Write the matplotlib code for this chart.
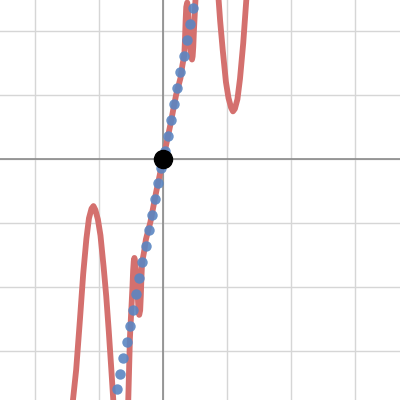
import numpy as np
import matplotlib.pyplot as plt

# red curve, right half (odd symmetric)
curve_x = [0.0, 0.11, 0.20, 0.27, 0.30, 0.33, 0.34, 0.35, 0.36, 0.375, 0.385, 0.40, 0.42, 0.44, 0.45, 0.46, 0.47,
           0.48, 0.50, 0.52, 0.56,
           0.74, 0.78, 0.81, 0.85, 0.89, 0.93, 0.98, 1.02, 1.06, 1.09, 1.12, 1.16, 1.20, 1.25, 1.30, 1.36, 1.41, 1.46]
curve_y = [0.0, 0.52, 0.99, 1.26, 1.46, 1.62, 1.85, 2.15, 2.37, 2.44, 2.38, 2.1, 1.78, 1.60, 1.55, 1.60, 1.75,
           2.00, 2.40, 2.8, 4.3,
           4.3, 3.77, 3.3, 2.7, 2.15, 1.7, 1.2, 0.95, 0.80, 0.74, 0.78, 0.93, 1.25, 1.8, 2.5, 3.3, 3.77, 4.3]

# blue dots
dot_y = [2.35, 2.10, 1.85, 1.60, 1.35, 1.10, 0.85, 0.61, 0.36, 0.12, -0.14, -0.38, -0.63, -0.88,
         -1.12, -1.37, -1.62, -1.86, -2.11, -2.36, -2.61, -2.86, -3.11, -3.36, -3.60]
dot_x = [0.470, 0.420, 0.370, 0.320, 0.270, 0.220, 0.170, 0.122, 0.072, 0.024, -0.028, -0.076, -0.126,
         -0.176, -0.224, -0.274, -0.324, -0.372, -0.422, -0.472, -0.522, -0.572, -0.622, -0.672, -0.720]

cx = np.array(curve_x)
cy = np.array(curve_y)
full_x = np.concatenate([-cx[::-1], cx[1:]])
full_y = np.concatenate([-cy[::-1], cy[1:]])

fig = plt.figure(figsize=(4, 4), dpi=100)
ax = fig.add_axes([0, 0, 1, 1])
ax.set_xlim(-2.55, 3.70)
ax.set_ylim(-3.77, 2.48)
for g in range(-2, 4):
    ax.axvline(g, color='#d6d6d6', lw=1, zorder=0)
for g in range(-3, 3):
    ax.axhline(g, color='#d6d6d6', lw=1, zorder=0)
ax.axvline(0, color='#8a8a8a', lw=1.2, zorder=1)
ax.axhline(0, color='#8a8a8a', lw=1.2, zorder=1)

ax.plot(full_x, full_y, color='#d4706e', lw=4.2, solid_capstyle='round', solid_joinstyle='round', zorder=2)
ax.plot(dot_x, dot_y, 'o', color='#5b86c2', ms=7.5, mec='none', alpha=0.9, zorder=3)
ax.plot([0], [0], 'o', color='black', ms=13, zorder=4)

ax.set_xticks([])
ax.set_yticks([])
for s in ax.spines.values():
    s.set_visible(False)
fig.savefig('out.png', dpi=100)
